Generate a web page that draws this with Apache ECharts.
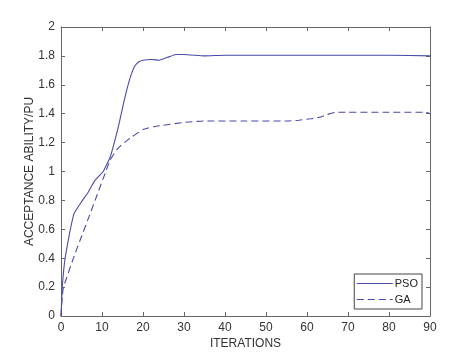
<!DOCTYPE html>
<html><head><meta charset="utf-8">
<script src="https://cdn.jsdelivr.net/npm/echarts@6/dist/echarts.min.js"></script>
<style>html,body{margin:0;padding:0;background:#fff}#c{width:474px;height:355px}</style>
</head><body><div id="c"></div>
<script>
var psoX = [0, 0.3, 0.6, 1, 2, 3.2, 5, 6.7, 8.3, 10.3, 12, 13, 14, 15, 16, 17, 18, 19, 20, 22, 24, 26, 28, 30, 35, 40, 50, 60, 70, 80, 90];
var psoY = [0, 0.2, 0.3, 0.4, 0.56, 0.71, 0.79, 0.86, 0.94, 1.0, 1.1, 1.2, 1.31, 1.44, 1.56, 1.66, 1.73, 1.76, 1.77, 1.775, 1.77, 1.79, 1.81, 1.81, 1.80, 1.805, 1.805, 1.805, 1.805, 1.805, 1.80];
var gaX = [0, 0.3, 0.6, 3.4, 5, 7, 8.7, 10.8, 12, 13.6, 15, 17.3, 20, 22.5, 25, 30, 35, 45, 55, 58, 61, 63, 65, 67, 70, 80, 89, 90];
var gaY = [0, 0.13, 0.2, 0.43, 0.55, 0.7, 0.83, 0.99, 1.08, 1.15, 1.19, 1.24, 1.29, 1.31, 1.32, 1.34, 1.35, 1.35, 1.35, 1.355, 1.365, 1.375, 1.395, 1.41, 1.41, 1.41, 1.41, 1.40];
var seriesNames = ['PSO', 'GA'];
var xTitle = 'ITERATIONS';
var yTitle = 'ACCEPTANCE ABILITY/PU';

function zip(a, b) { return a.map(function (v, i) { return [v, b[i]]; }); }
var lineColor = '#4a4aaa';
var axisColor = '#666';
var font = 'Liberation Sans, Arial, sans-serif';

var chart = echarts.init(document.getElementById('c'));
var tickInside = { show: true, inside: true, length: 4, lineStyle: { color: axisColor } };
chart.setOption({
  animation: false,
  backgroundColor: '#fff',
  grid: { left: 61, right: 44, top: 27, bottom: 39, show: false },
  legend: {
    orient: 'vertical', right: 52, top: 274,
    itemWidth: 36, itemHeight: 10, itemGap: 5,
    padding: [4, 4, 4, 2],
    borderColor: '#444', borderWidth: 1, backgroundColor: '#fff',
    itemStyle: { opacity: 0 },
    lineStyle: { width: 1 },
    textStyle: { fontFamily: font, fontSize: 11, color: '#222', padding: [0, 0, 0, -3] },
    data: seriesNames
  },
  xAxis: [{
    type: 'value', min: 0, max: 90, interval: 10, position: 'bottom',
    axisLine: { show: true, onZero: false, lineStyle: { color: axisColor } },
    axisTick: tickInside, splitLine: { show: false },
    axisLabel: { fontFamily: font, fontSize: 12, color: '#333', margin: 6 },
    name: xTitle, nameLocation: 'middle', nameGap: 22, nameMoveOverlap: false,
    nameTextStyle: { fontFamily: font, fontSize: 12, color: '#333' }
  }, {
    type: 'value', min: 0, max: 90, interval: 10, position: 'top',
    axisLine: { show: true, onZero: false, lineStyle: { color: axisColor } },
    axisTick: tickInside, axisLabel: { show: false }, splitLine: { show: false }
  }],
  yAxis: [{
    type: 'value', min: 0, max: 2, interval: 0.2, position: 'left',
    axisLine: { show: true, onZero: false, lineStyle: { color: axisColor } },
    axisTick: tickInside, splitLine: { show: false },
    axisLabel: { fontFamily: font, fontSize: 12, color: '#333', margin: 6,
      formatter: function (v) { return String(Math.round(v * 10) / 10); } },
    name: yTitle, nameLocation: 'middle', nameGap: 25, nameRotate: 90, nameMoveOverlap: false,
    nameTextStyle: { fontFamily: font, fontSize: 12, color: '#333' }
  }, {
    type: 'value', min: 0, max: 2, interval: 0.2, position: 'right',
    axisLine: { show: true, onZero: false, lineStyle: { color: axisColor } },
    axisTick: tickInside, axisLabel: { show: false }, splitLine: { show: false }
  }],
  series: [{
    name: seriesNames[0], type: 'line', data: zip(psoX, psoY), smooth: 0.1,
    showSymbol: false, symbol: 'none', color: lineColor,
    lineStyle: { color: lineColor, width: 1.1, type: 'solid' }
  }, {
    name: seriesNames[1], type: 'line', data: zip(gaX, gaY), smooth: 0.1,
    showSymbol: false, symbol: 'none', color: lineColor,
    lineStyle: { color: lineColor, width: 1.1, type: [7, 4] }
  }]
});
</script></body></html>
